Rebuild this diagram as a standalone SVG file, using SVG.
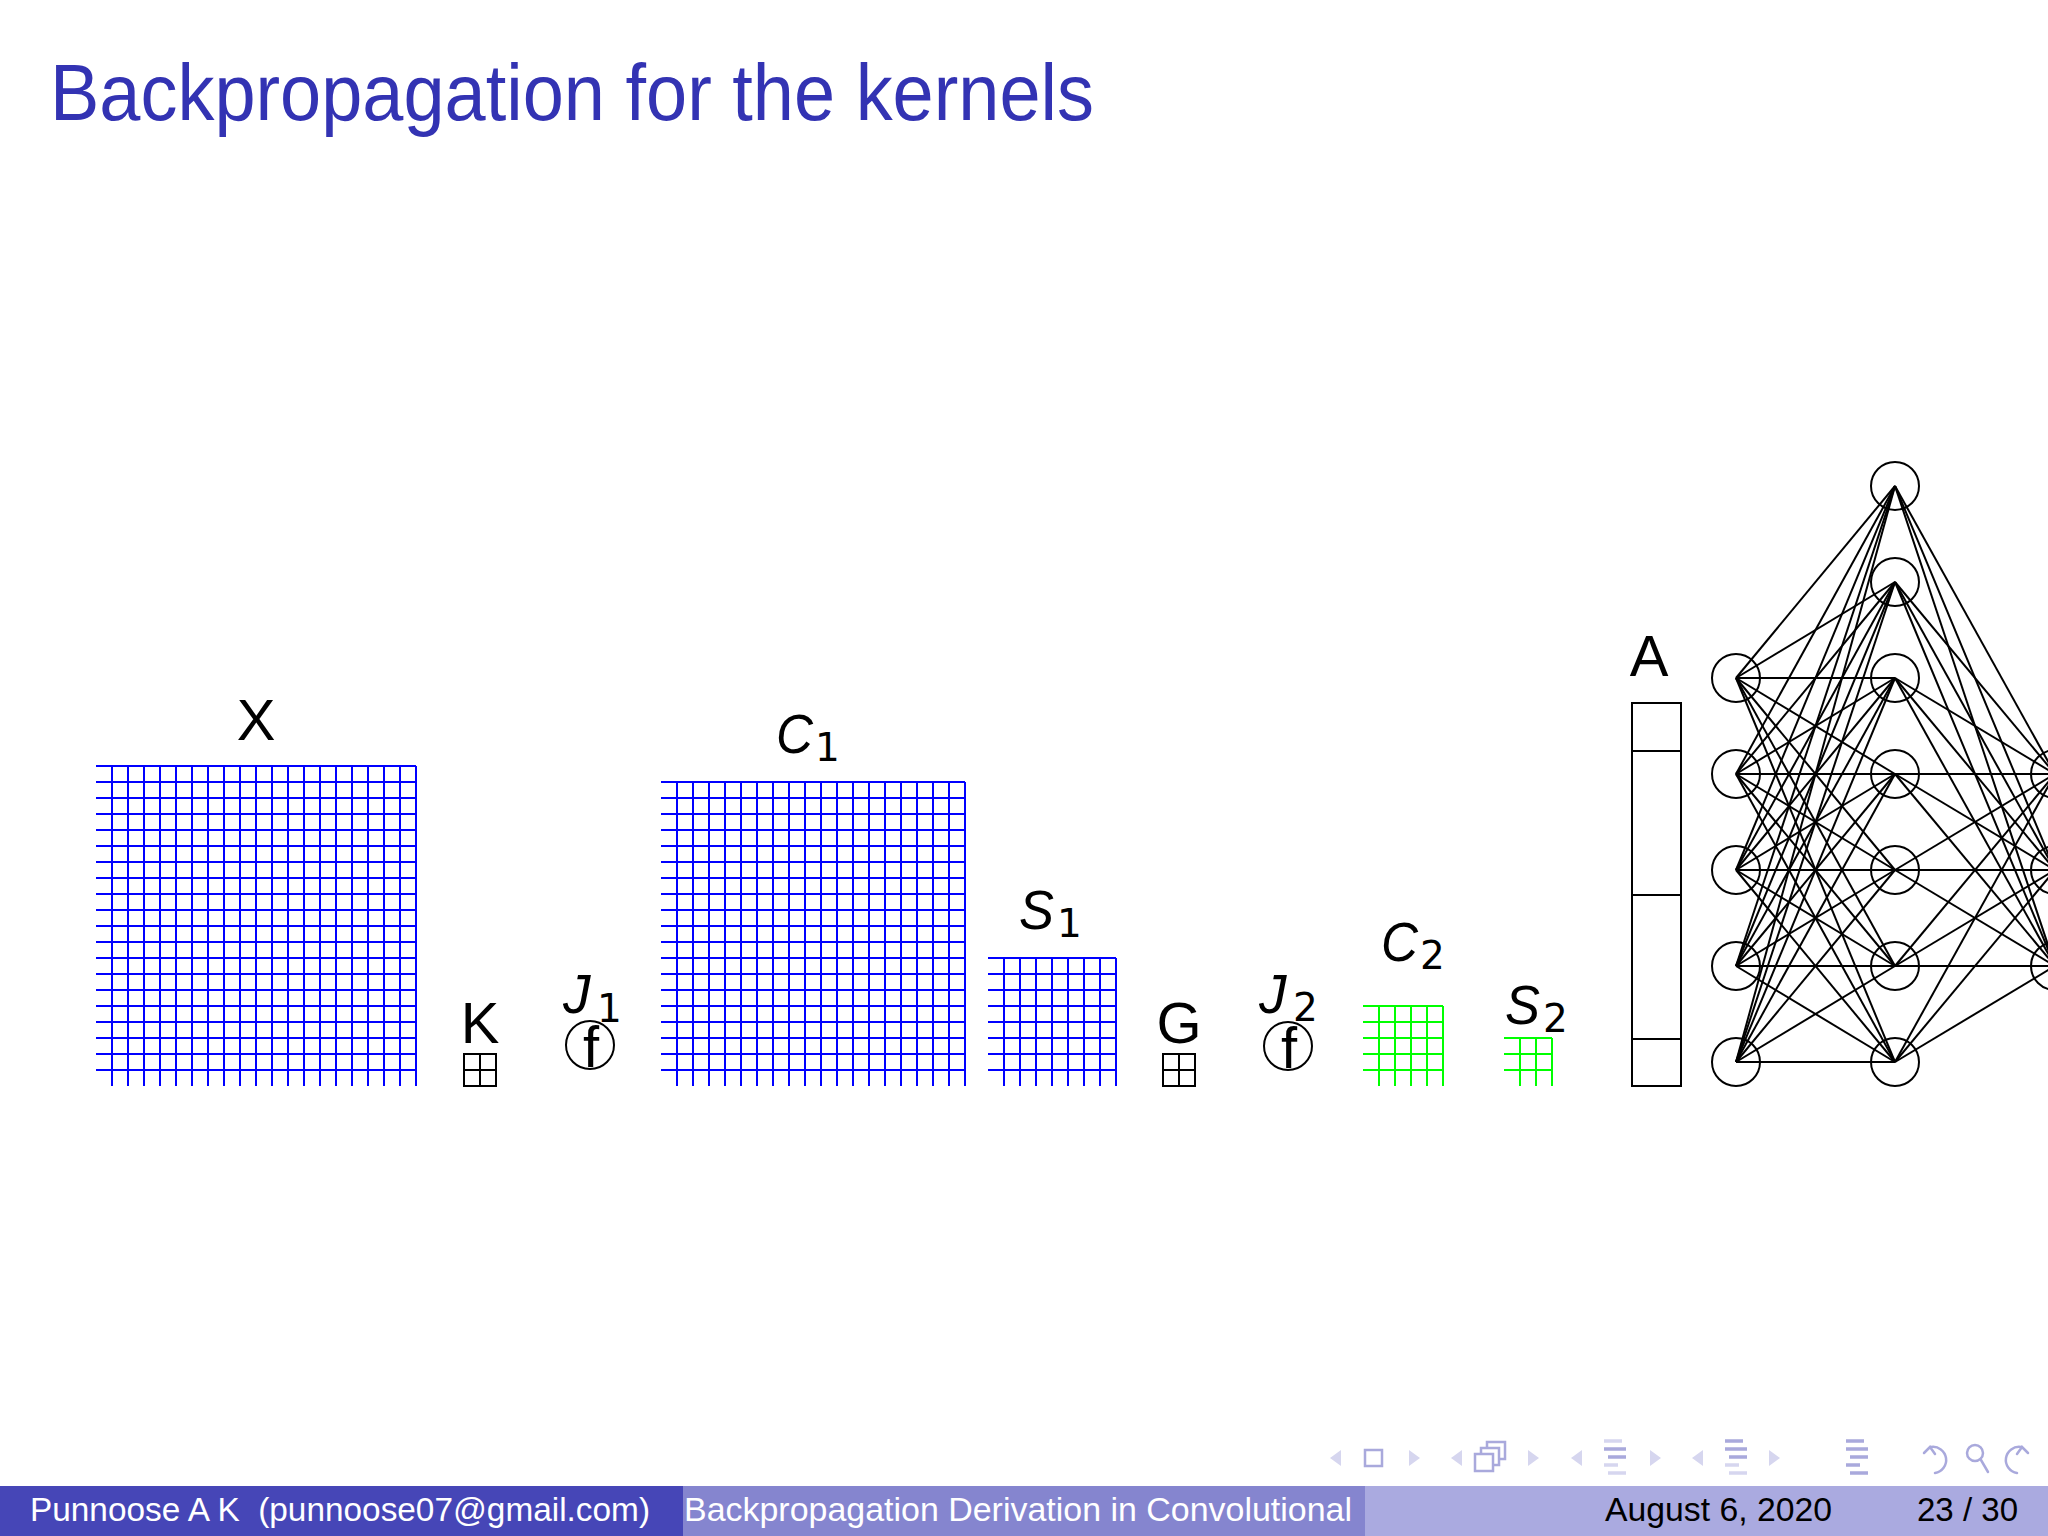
<svg xmlns="http://www.w3.org/2000/svg" width="2048" height="1536" viewBox="0 0 2048 1536">
<style>
.lbl{font-family:"Liberation Sans",Arial,sans-serif;font-size:58px;fill:#000}
.mi{font-family:"Liberation Sans",Arial,sans-serif;font-style:italic;font-size:55px;fill:#000}
.sub{font-family:"DejaVu Sans","Liberation Sans",sans-serif;font-size:39px;fill:#000}
.gb{stroke:#0000ff;stroke-width:2;fill:none}
.gg{stroke:#00ff00;stroke-width:2;fill:none}
.k{stroke:#000;stroke-width:2;fill:none}
.edge{stroke:#000;stroke-width:2}
.nn{fill:none;stroke:#000;stroke-width:2}
.title{font-family:"Liberation Sans",Arial,sans-serif;font-size:80px;fill:#3333b3}
.foot{font-family:"Liberation Sans",Arial,sans-serif;font-size:33px;white-space:pre}
.navd{fill:#d6d6ef}
.navi{fill:#fff;stroke:#a9a9dc;stroke-width:2.5}
.navl{fill:none;stroke:#a9a9dc;stroke-width:2.5;stroke-linecap:round}
.bar{stroke-width:3.5}
</style>
<rect x="0" y="0" width="2048" height="1536" fill="#ffffff"/>

<g id="title">
<text class="title" x="50" y="120" textLength="1044" lengthAdjust="spacingAndGlyphs">Backpropagation for the kernels</text>
</g>

<g id="node-X">
<text class="lbl" x="256" y="740" text-anchor="middle">X</text>
<path class="gb" d="M96 766h320M96 782h320M96 798h320M96 814h320M96 830h320M96 846h320M96 862h320M96 878h320M96 894h320M96 910h320M96 926h320M96 942h320M96 958h320M96 974h320M96 990h320M96 1006h320M96 1022h320M96 1038h320M96 1054h320M96 1070h320M112 766v320M128 766v320M144 766v320M160 766v320M176 766v320M192 766v320M208 766v320M224 766v320M240 766v320M256 766v320M272 766v320M288 766v320M304 766v320M320 766v320M336 766v320M352 766v320M368 766v320M384 766v320M400 766v320M416 766v320"/>
</g>

<g id="node-K">
<text class="lbl" x="480" y="1043" text-anchor="middle">K</text>
<rect class="k" x="464" y="1054" width="32" height="32"/>
<path class="k" d="M480 1054v32M464 1070h32"/>
</g>

<g id="node-J1">
<text class="mi" x="563" y="1013">J</text>
<text class="sub" x="597" y="1022">1</text>
<circle class="nn" cx="590" cy="1045" r="24"/>
<text class="lbl" x="591" y="1067" text-anchor="middle">f</text>
</g>

<g id="node-C1">
<text class="mi" x="776" y="753" textLength="37" lengthAdjust="spacingAndGlyphs">C</text>
<text class="sub" x="815" y="761">1</text>
<path class="gb" d="M661 782h304M661 798h304M661 814h304M661 830h304M661 846h304M661 862h304M661 878h304M661 894h304M661 910h304M661 926h304M661 942h304M661 958h304M661 974h304M661 990h304M661 1006h304M661 1022h304M661 1038h304M661 1054h304M661 1070h304M677 782v304M693 782v304M709 782v304M725 782v304M741 782v304M757 782v304M773 782v304M789 782v304M805 782v304M821 782v304M837 782v304M853 782v304M869 782v304M885 782v304M901 782v304M917 782v304M933 782v304M949 782v304M965 782v304"/>
</g>

<g id="node-S1">
<text class="mi" x="1019" y="929" textLength="35" lengthAdjust="spacingAndGlyphs">S</text>
<text class="sub" x="1057" y="937">1</text>
<path class="gb" d="M988 958h128M988 974h128M988 990h128M988 1006h128M988 1022h128M988 1038h128M988 1054h128M988 1070h128M1004 958v128M1020 958v128M1036 958v128M1052 958v128M1068 958v128M1084 958v128M1100 958v128M1116 958v128"/>
</g>

<g id="node-G">
<text class="lbl" x="1179" y="1043" text-anchor="middle">G</text>
<rect class="k" x="1163" y="1054" width="32" height="32"/>
<path class="k" d="M1179 1054v32M1163 1070h32"/>
</g>

<g id="node-J2">
<text class="mi" x="1259" y="1013">J</text>
<text class="sub" x="1293" y="1021">2</text>
<circle class="nn" cx="1288" cy="1046" r="24"/>
<text class="lbl" x="1289" y="1068" text-anchor="middle">f</text>
</g>

<g id="node-C2">
<text class="mi" x="1381" y="961" textLength="37" lengthAdjust="spacingAndGlyphs">C</text>
<text class="sub" x="1420" y="969">2</text>
<path class="gg" d="M1363 1006h80M1363 1022h80M1363 1038h80M1363 1054h80M1363 1070h80M1379 1006v80M1395 1006v80M1411 1006v80M1427 1006v80M1443 1006v80"/>
</g>

<g id="node-S2">
<text class="mi" x="1505" y="1024" textLength="35" lengthAdjust="spacingAndGlyphs">S</text>
<text class="sub" x="1543" y="1032">2</text>
<path class="gg" d="M1504 1038h48M1504 1054h48M1504 1070h48M1520 1038v48M1536 1038v48M1552 1038v48"/>
</g>

<g id="node-A">
<text class="lbl" x="1649" y="676" text-anchor="middle">A</text>
<rect class="k" x="1632" y="703" width="49" height="383"/>
<path class="k" d="M1632 751h49M1632 895h49M1632 1039h49"/>
</g>

<g id="connectors">
<line class="edge" x1="1736" y1="678" x2="1895" y2="486"/>
<line class="edge" x1="1736" y1="678" x2="1895" y2="582"/>
<line class="edge" x1="1736" y1="678" x2="1895" y2="678"/>
<line class="edge" x1="1736" y1="678" x2="1895" y2="774"/>
<line class="edge" x1="1736" y1="678" x2="1895" y2="870"/>
<line class="edge" x1="1736" y1="678" x2="1895" y2="966"/>
<line class="edge" x1="1736" y1="678" x2="1895" y2="1062"/>
<line class="edge" x1="1736" y1="774" x2="1895" y2="486"/>
<line class="edge" x1="1736" y1="774" x2="1895" y2="582"/>
<line class="edge" x1="1736" y1="774" x2="1895" y2="678"/>
<line class="edge" x1="1736" y1="774" x2="1895" y2="774"/>
<line class="edge" x1="1736" y1="774" x2="1895" y2="870"/>
<line class="edge" x1="1736" y1="774" x2="1895" y2="966"/>
<line class="edge" x1="1736" y1="774" x2="1895" y2="1062"/>
<line class="edge" x1="1736" y1="870" x2="1895" y2="486"/>
<line class="edge" x1="1736" y1="870" x2="1895" y2="582"/>
<line class="edge" x1="1736" y1="870" x2="1895" y2="678"/>
<line class="edge" x1="1736" y1="870" x2="1895" y2="774"/>
<line class="edge" x1="1736" y1="870" x2="1895" y2="870"/>
<line class="edge" x1="1736" y1="870" x2="1895" y2="966"/>
<line class="edge" x1="1736" y1="870" x2="1895" y2="1062"/>
<line class="edge" x1="1736" y1="966" x2="1895" y2="486"/>
<line class="edge" x1="1736" y1="966" x2="1895" y2="582"/>
<line class="edge" x1="1736" y1="966" x2="1895" y2="678"/>
<line class="edge" x1="1736" y1="966" x2="1895" y2="774"/>
<line class="edge" x1="1736" y1="966" x2="1895" y2="870"/>
<line class="edge" x1="1736" y1="966" x2="1895" y2="966"/>
<line class="edge" x1="1736" y1="966" x2="1895" y2="1062"/>
<line class="edge" x1="1736" y1="1062" x2="1895" y2="486"/>
<line class="edge" x1="1736" y1="1062" x2="1895" y2="582"/>
<line class="edge" x1="1736" y1="1062" x2="1895" y2="678"/>
<line class="edge" x1="1736" y1="1062" x2="1895" y2="774"/>
<line class="edge" x1="1736" y1="1062" x2="1895" y2="870"/>
<line class="edge" x1="1736" y1="1062" x2="1895" y2="966"/>
<line class="edge" x1="1736" y1="1062" x2="1895" y2="1062"/>
<line class="edge" x1="1895" y1="486" x2="2055" y2="774"/>
<line class="edge" x1="1895" y1="486" x2="2055" y2="870"/>
<line class="edge" x1="1895" y1="486" x2="2055" y2="966"/>
<line class="edge" x1="1895" y1="582" x2="2055" y2="774"/>
<line class="edge" x1="1895" y1="582" x2="2055" y2="870"/>
<line class="edge" x1="1895" y1="582" x2="2055" y2="966"/>
<line class="edge" x1="1895" y1="678" x2="2055" y2="774"/>
<line class="edge" x1="1895" y1="678" x2="2055" y2="870"/>
<line class="edge" x1="1895" y1="678" x2="2055" y2="966"/>
<line class="edge" x1="1895" y1="774" x2="2055" y2="774"/>
<line class="edge" x1="1895" y1="774" x2="2055" y2="870"/>
<line class="edge" x1="1895" y1="774" x2="2055" y2="966"/>
<line class="edge" x1="1895" y1="870" x2="2055" y2="774"/>
<line class="edge" x1="1895" y1="870" x2="2055" y2="870"/>
<line class="edge" x1="1895" y1="870" x2="2055" y2="966"/>
<line class="edge" x1="1895" y1="966" x2="2055" y2="774"/>
<line class="edge" x1="1895" y1="966" x2="2055" y2="870"/>
<line class="edge" x1="1895" y1="966" x2="2055" y2="966"/>
<line class="edge" x1="1895" y1="1062" x2="2055" y2="774"/>
<line class="edge" x1="1895" y1="1062" x2="2055" y2="870"/>
<line class="edge" x1="1895" y1="1062" x2="2055" y2="966"/>
</g>

<g id="network-nodes">
<circle class="nn" cx="1736" cy="678" r="24"/>
<circle class="nn" cx="1736" cy="774" r="24"/>
<circle class="nn" cx="1736" cy="870" r="24"/>
<circle class="nn" cx="1736" cy="966" r="24"/>
<circle class="nn" cx="1736" cy="1062" r="24"/>
<circle class="nn" cx="1895" cy="486" r="24"/>
<circle class="nn" cx="1895" cy="582" r="24"/>
<circle class="nn" cx="1895" cy="678" r="24"/>
<circle class="nn" cx="1895" cy="774" r="24"/>
<circle class="nn" cx="1895" cy="870" r="24"/>
<circle class="nn" cx="1895" cy="966" r="24"/>
<circle class="nn" cx="1895" cy="1062" r="24"/>
<circle class="nn" cx="2055" cy="774" r="24"/>
<circle class="nn" cx="2055" cy="870" r="24"/>
<circle class="nn" cx="2055" cy="966" r="24"/>
</g>

<g id="navigation" transform="translate(0,-9)">
<polygon class="navd" points="1341,1459 1330,1467 1341,1475"/>
<rect class="navi" x="1365" y="1459" width="17" height="16"/>
<polygon class="navd" points="1409,1459 1420,1467 1409,1475"/>
<polygon class="navd" points="1462,1459 1451,1467 1462,1475"/>
<rect class="navi" x="1487" y="1451" width="18" height="17"/>
<rect class="navi" x="1481" y="1457" width="18" height="17"/>
<rect class="navi" x="1475" y="1463" width="18" height="17"/>
<polygon class="navd" points="1528,1459 1539,1467 1528,1475"/>
<polygon class="navd" points="1582,1459 1571,1467 1582,1475"/>
<path class="bar" stroke="#d6d6ef" d="M1604 1450h18M1604 1474h14M1608 1482h18"/>
<path class="bar" stroke="#a9a9dc" d="M1604 1458h22M1608 1466h18"/>
<polygon class="navd" points="1650,1459 1661,1467 1650,1475"/>
<polygon class="navd" points="1703,1459 1692,1467 1703,1475"/>
<path class="bar" stroke="#a9a9dc" d="M1725 1450h18M1725 1458h22M1729 1466h18"/>
<path class="bar" stroke="#d6d6ef" d="M1725 1474h14M1729 1482h18"/>
<polygon class="navd" points="1769,1459 1780,1467 1769,1475"/>
<path class="bar" stroke="#a9a9dc" d="M1846 1450h18M1846 1458h22M1850 1466h18M1846 1474h14M1850 1482h18"/>
<path class="navl" d="M1931 1456A13 13 0 1 1 1935 1482M1924 1462L1930 1456L1935 1463"/>
<circle class="navl" cx="1975" cy="1462" r="8"/>
<path class="navl" d="M1981 1469L1988 1481"/>
<path class="navl" d="M2021 1456A13 13 0 1 0 2017 1482M2028 1462L2022 1456L2017 1463"/>
</g>

<g id="footer">
<rect x="0" y="1486" width="683" height="50" fill="#4646b7"/>
<rect x="683" y="1486" width="682" height="50" fill="#8585cf"/>
<rect x="1365" y="1486" width="683" height="50" fill="#aaaae0"/>
<text class="foot" x="30" y="1521" fill="#ffffff" textLength="620" lengthAdjust="spacingAndGlyphs">Punnoose A K  (punnoose07@gmail.com)</text>
<text class="foot" x="684" y="1521" fill="#ffffff" textLength="668" lengthAdjust="spacingAndGlyphs">Backpropagation Derivation in Convolutional</text>
<text class="foot" x="1605" y="1521" fill="#000000" textLength="227" lengthAdjust="spacingAndGlyphs">August 6, 2020</text>
<text class="foot" x="1917" y="1521" fill="#000000" textLength="101" lengthAdjust="spacingAndGlyphs">23 / 30</text>
</g>
</svg>
